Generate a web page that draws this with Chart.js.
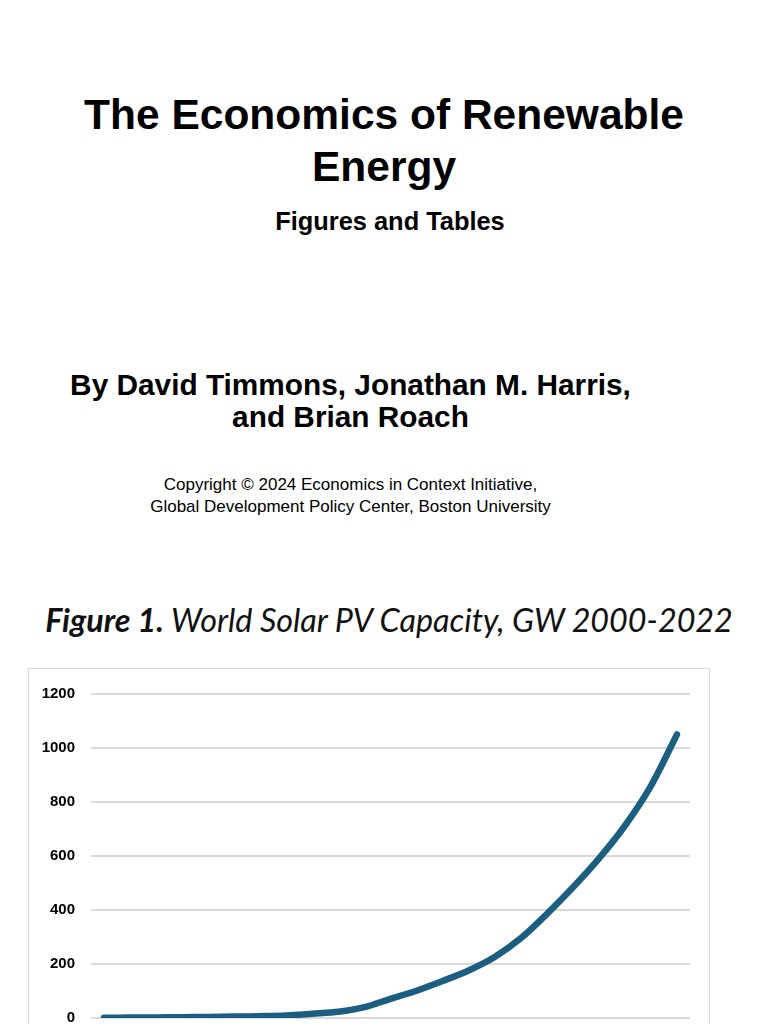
<!DOCTYPE html>
<html>
<head>
<meta charset="utf-8">
<script src="https://cdn.jsdelivr.net/npm/chart.js@4"></script>
<style>
  html, body { margin: 0; padding: 0; background: #fff; }
  body { width: 768px; height: 1024px; overflow: hidden; position: relative; font-family: "Liberation Sans", Arial, sans-serif; color: #000; }
  .t { position: absolute; left: 0; width: 768px; text-align: center; }
  #title { top: 89px; font-size: 42.5px; font-weight: bold; line-height: 52px; }
  #subtitle { top: 207px; left: 6px; font-size: 25.4px; font-weight: bold; }
  #authors { top: 369px; left: 0; width: 701px; font-size: 29.8px; font-weight: bold; line-height: 32px; }
  #copy { top: 474px; left: 0; width: 701px; font-size: 17px; line-height: 22px; }
  #figcap { top: 600px; left: 5px; font-family: Lato, "Open Sans", sans-serif; font-style: italic; font-size: 32.3px; color: #111; }
  #box { position: absolute; left: 28px; top: 668px; width: 680px; height: 420px; border: 1px solid #d9d9d9; background: #fff; }
  #wrap { position: absolute; left: 0; top: 0; width: 680px; height: 389px; }
</style>
</head>
<body>
<div class="t" id="title">The Economics of Renewable<br>Energy</div>
<div class="t" id="subtitle">Figures and Tables</div>
<div class="t" id="authors">By David Timmons, Jonathan M. Harris,<br>and Brian Roach</div>
<div class="t" id="copy">Copyright © 2024 Economics in Context Initiative,<br>Global Development Policy Center, Boston University</div>
<div class="t" id="figcap"><b>Figure 1.</b> World Solar PV Capacity, GW 2000-2022</div>
<div id="box"><div id="wrap"><canvas id="solarChart"></canvas></div></div>
<script>
// World solar PV capacity, GW
const years = ['2000', '2001', '2002', '2003', '2004', '2005', '2006', '2007', '2008', '2009', '2010', '2011',
               '2012', '2013', '2014', '2015', '2016', '2017', '2018', '2019', '2020', '2021', '2022'];
const capacityGW = [1.2, 1.5, 2.2, 2.8, 3.9, 5.1, 6.7, 9.2, 15.8, 23, 40, 71,
                    101, 137, 176, 226, 295, 385, 483, 590, 712, 860, 1050];
const yTicks = [0, 200, 400, 600, 800, 1000, 1200];

const ctx = document.getElementById('solarChart').getContext('2d');
new Chart(ctx, {
    type: 'line',
    data: {
        labels: years,
        datasets: [{
            label: 'Solar PV capacity (GW)',
            data: capacityGW,
            borderColor: '#1b5e80',
            borderWidth: 6.5,
            borderCapStyle: 'round',
            borderJoinStyle: 'round',
            pointRadius: 0,
            tension: 0.3,
            fill: false
        }]
    },
    options: {
        responsive: true,
        maintainAspectRatio: false,
        animation: false,
        layout: { padding: { top: 21, right: 19, left: 0, bottom: 0 } },
        plugins: { legend: { display: false }, tooltip: { enabled: false } },
        scales: {
            x: {
                offset: true,
                grid: { display: false },
                border: { display: false },
                ticks: { color: '#000', font: { family: 'Liberation Sans', size: 13, weight: 'bold' } },
                afterFit: scale => { scale.height = 40; }
            },
            y: {
                min: 0,
                max: 1200,
                afterBuildTicks: scale => { scale.ticks = yTicks.map(v => ({ value: v })); },
                grid: { color: '#d9d9d9', lineWidth: 2, drawTicks: false },
                border: { display: false },
                ticks: {
                    color: '#000',
                    padding: 16,
                    callback: value => String(value),
                    font: { family: '"Liberation Sans", sans-serif', size: 15, weight: 'bold' }
                },
                afterFit: scale => { scale.width = 62; }
            }
        }
    }
});
</script>
</body>
</html>
